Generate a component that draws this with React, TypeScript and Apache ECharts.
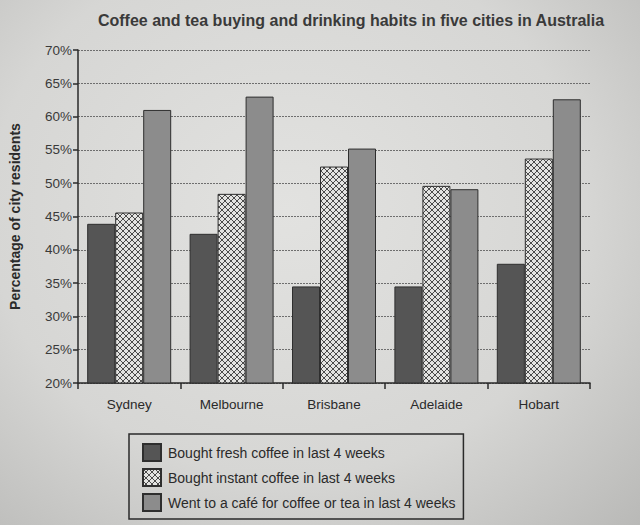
import {useEffect, useRef} from 'react';
import * as echarts from 'echarts';

const cities = ['Sydney', 'Melbourne', 'Brisbane', 'Adelaide', 'Hobart'];
const freshCoffee = [43.9, 42.4, 34.5, 34.5, 37.9];
const instantCoffee = [45.6, 48.4, 52.5, 49.6, 53.7];
const cafeVisits = [61.0, 63.0, 55.2, 49.1, 62.6];

const seriesNames = [
    'Bought fresh coffee in last 4 weeks',
    'Bought instant coffee in last 4 weeks',
    'Went to a café for coffee or tea in last 4 weeks',
];

const FONT = '"Liberation Sans", Arial, sans-serif';

// small diamond cross-hatch tile for the instant coffee bars
const hatchSvg =
    '<svg xmlns="http://www.w3.org/2000/svg" width="6" height="6">' +
    '<rect width="6" height="6" fill="#e4e4e2"/>' +
    '<path d="M0 0L6 6M6 0L0 6M-1 5L1 7M5 -1L7 1M-1 1L1 -1M5 7L7 5" stroke="#3a3a3a" stroke-width="0.9"/>' +
    '</svg>';
const hatch = {
    image: 'data:image/svg+xml;charset=utf-8,' + encodeURIComponent(hatchSvg),
    repeat: 'repeat',
    imageWidth: 6,
    imageHeight: 6,
};

const App = () => {
    const chartRef = useRef<HTMLDivElement>(null);

    useEffect(() => {
        const chart = echarts.init(chartRef.current!, null, {renderer: 'svg'});

        const barStyle = {borderColor: '#2e2e2e', borderWidth: 1};

        chart.setOption({
            animation: false,
            backgroundColor: 'transparent',
            title: {
                text: 'Coffee and tea buying and drinking habits in five cities in Australia',
                left: 346,
                top: 7,
                textAlign: 'center',
                textStyle: {fontFamily: FONT, fontSize: 16, fontWeight: 'bold', color: '#3a3a3a'},
            },
            grid: {left: 77, right: 50, top: 50, bottom: 142},
            legend: {
                orient: 'vertical',
                left: 129,
                top: 434,
                padding: [9, 8, 7, 13],
                icon: 'rect',
                itemWidth: 18,
                itemHeight: 17,
                itemGap: 6,
                borderColor: '#2a2a2a',
                borderWidth: 1.5,
                textStyle: {fontFamily: FONT, fontSize: 14, color: '#2a2a2a', padding: [0, 0, 0, 2]},
                data: seriesNames,
            },
            xAxis: {
                type: 'category',
                data: cities,
                axisLine: {lineStyle: {color: '#2a2a2a', width: 1.5}},
                axisTick: {show: true, length: 6, lineStyle: {color: '#2a2a2a', width: 1.5}},
                axisLabel: {fontFamily: FONT, fontSize: 13.5, color: '#2a2a2a', margin: 14},
            },
            yAxis: {
                type: 'value',
                min: 20,
                max: 70,
                interval: 5,
                name: 'Percentage of city residents',
                nameLocation: 'middle',
                nameGap: 56,
                nameTextStyle: {fontFamily: FONT, fontSize: 14, fontWeight: 'bold', color: '#2a2a2a'},
                axisLine: {show: true, lineStyle: {color: '#2a2a2a', width: 1.5}},
                axisTick: {show: true, length: 5, lineStyle: {color: '#2a2a2a', width: 1.5}},
                axisLabel: {fontFamily: FONT, fontSize: 13.5, color: '#3a3a3a', margin: 6, formatter: '{value}%'},
                splitLine: {lineStyle: {color: '#6e6e6e', type: [2, 1], width: 1}},
            },
            series: [
                {
                    name: seriesNames[0],
                    type: 'bar',
                    data: freshCoffee,
                    barWidth: 28,
                    barGap: '0%',
                    itemStyle: {...barStyle, color: '#555555'},
                },
                {
                    name: seriesNames[1],
                    type: 'bar',
                    data: instantCoffee,
                    barWidth: 28,
                    barGap: '0%',
                    itemStyle: {...barStyle, color: hatch},
                },
                {
                    name: seriesNames[2],
                    type: 'bar',
                    data: cafeVisits,
                    barWidth: 28,
                    barGap: '0%',
                    itemStyle: {...barStyle, color: '#8c8c8c'},
                },
            ],
        });

        return () => {
            chart.dispose();
        };
    }, []);

    return (
        <div
            style={{
                position: 'absolute',
                left: 0,
                top: 0,
                width: 640,
                height: 525,
                background: 'radial-gradient(ellipse at 45% 40%, #e2e2e0 0%, #d6d6d4 60%, #b9b9b7 100%)',
            }}
        >
            <div ref={chartRef} style={{width: 640, height: 525}} />
        </div>
    );
};

export default App;
